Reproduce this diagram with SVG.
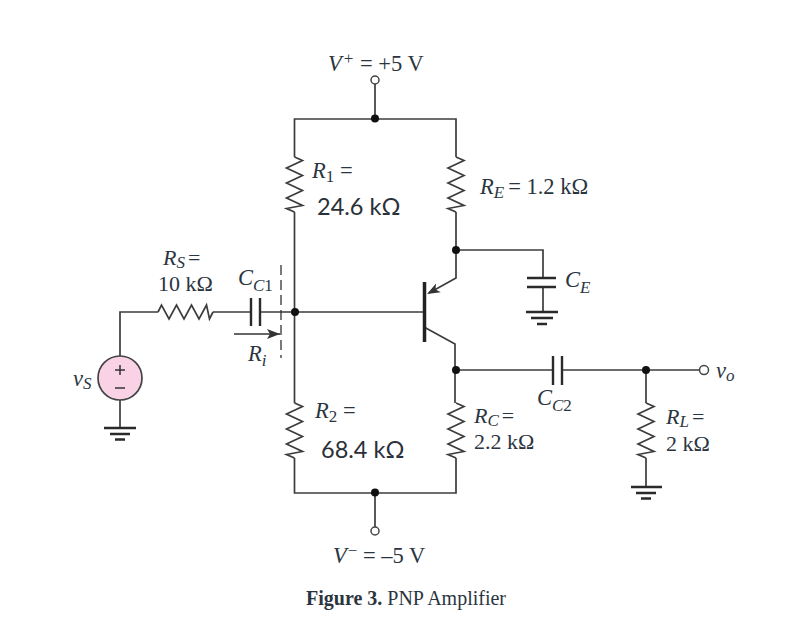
<svg xmlns="http://www.w3.org/2000/svg" width="812" height="623" viewBox="0 0 812 623">
<style>
.w{fill:none;stroke:#3c3c3c;stroke-width:1.7}
.p{fill:none;stroke:#2a2a2a;stroke-width:2.4}
.d{fill:#111}
.o{fill:#fff;stroke:#444;stroke-width:1.5}
text{font-family:"Liberation Serif",serif;font-size:22.5px;fill:#2b3540}
.t{font-size:22px}
.i{font-style:italic}
.s{font-size:17px;font-style:italic}
.n{font-size:17px}
.c{font-family:Lato,"Noto Sans",sans-serif;font-size:23.5px;fill:#2a3038}
</style>
<defs>
<path id="zz" d="M0 0L8 3.5L-8 11L8 18.5L-8 26L8 33.5L-8 41L8 48.5L-8 51.5L0 55" class="w"/>
<path id="zh" d="M0 0L3.5 -7L11 7L18.5 -7L26 7L33.5 -7L41 7L48.5 -7L51.5 7L55 0" class="w"/>
<marker id="ah" markerUnits="userSpaceOnUse" markerWidth="14" markerHeight="10" refX="13" refY="5" orient="auto"><path d="M0 0L13 5L0 10L3 5Z" fill="#333"/></marker>
</defs>
<rect width="812" height="623" fill="#fff"/>
<g id="connectors">
<path class="w" d="M375 84V119M294.500 157V119H456V157M294.500 212V403M294.500 458V493H456V458M375 493V527"/>
<path class="w" d="M456 212V278L429 293M424 327L455 344V403"/>
<path class="w" d="M456 250H543V278M543 287V312"/>
<path class="w" d="M456 370H553M562 370H699M646 370V403M646 458V487"/>
<path class="w" d="M120 356V312H158M213 312H251M260 312H424"/>
<path class="w" d="M120 400V428"/>
<path d="M281 265V358" fill="none" stroke="#333" stroke-width="1.300" stroke-dasharray="10 5"/>
<path d="M234 334H280" fill="none" stroke="#333" stroke-width="1.300" marker-end="url(#ah)"/>
</g>
<g id="vplus"><circle class="o" cx="375" cy="80" r="4"/><circle class="d" cx="375" cy="118.500" r="4"/><text x="328" y="71"><tspan class="i">V</tspan><tspan font-size="17" dy="-7" dx="2">+</tspan><tspan dy="7" dx="1"> = +5 V</tspan></text></g>
<g id="vminus"><circle class="o" cx="375" cy="531" r="4"/><circle class="d" cx="375" cy="492.500" r="4"/><text x="333" y="563"><tspan class="i">V</tspan><tspan font-size="17" dy="-7" dx="1">−</tspan><tspan dy="7"> = –5 V</tspan></text></g>
<g id="r1"><use href="#zz" x="294.500" y="157"/><text x="312" y="178"><tspan class="i">R</tspan><tspan class="n" dy="4">1</tspan><tspan dy="-4"> =</tspan></text><text class="c" x="317" y="215">24.6 kΩ</text></g>
<g id="r2"><use href="#zz" x="294.500" y="403"/><text x="315" y="418"><tspan class="i">R</tspan><tspan class="n" dy="4">2</tspan><tspan dy="-4"> =</tspan></text><text class="c" x="321" y="458">68.4 kΩ</text></g>
<g id="re"><use href="#zz" x="456" y="157"/><text x="480" y="194"><tspan class="i">R</tspan><tspan class="s" dy="4">E</tspan><tspan dy="-4" dx="4">= 1.2 kΩ</tspan></text></g>
<g id="rc"><use href="#zz" x="456" y="403"/><text class="t" x="474" y="423"><tspan class="i">R</tspan><tspan class="s" dy="2.500">C</tspan><tspan dy="-2.500" dx="3">=</tspan></text><text class="t" x="474" y="449">2.2 kΩ</text></g>
<g id="rl"><use href="#zz" x="646" y="403"/><text class="t" x="666" y="424"><tspan class="i">R</tspan><tspan class="s" dy="2.500">L</tspan><tspan dy="-2.500" dx="3">=</tspan></text><text class="t" x="666" y="451">2 kΩ</text></g>
<g id="rs"><use href="#zh" x="158" y="312"/><text class="t" x="163" y="265"><tspan class="i">R</tspan><tspan class="s" dy="2.500">S</tspan><tspan dy="-2.500" dx="3">=</tspan></text><text class="t" x="158" y="291">10 kΩ</text></g>
<g id="cc1"><path class="p" d="M251 298V326M260 298V326"/><text x="238" y="285"><tspan class="i">C</tspan><tspan class="s" dy="6">C</tspan><tspan class="n">1</tspan></text></g>
<g id="cc2"><path class="p" d="M553 356V385M562 356V385"/><text x="537" y="405"><tspan class="i">C</tspan><tspan class="s" dy="6">C</tspan><tspan class="n">2</tspan></text></g>
<g id="ce"><path class="p" d="M527 278H556M527 287H556"/><path class="p" d="M526 312H558M531 318H553M537 324H547"/><text x="565" y="287"><tspan class="i">C</tspan><tspan class="s" dy="6">E</tspan></text></g>
<g id="q1"><path d="M424.500 282V342" fill="none" stroke="#222" stroke-width="3.500"/><path d="M427 294L436 283.400L435.500 289.500L440.800 292.200Z" fill="#333"/></g>
<g id="base"><circle class="d" cx="295" cy="312" r="4"/></g>
<g id="ne"><circle class="d" cx="456" cy="250" r="4"/></g>
<g id="nc"><circle class="d" cx="456" cy="370" r="4"/></g>
<g id="nl"><circle class="d" cx="646" cy="370" r="4"/></g>
<g id="vo"><circle class="o" cx="704" cy="370" r="4.500"/><text x="716" y="378"><tspan class="i">v</tspan><tspan class="s" dy="3">o</tspan></text></g>
<g id="ri"><text x="248" y="361"><tspan class="i">R</tspan><tspan class="s" dy="5">i</tspan></text></g>
<g id="vs"><circle cx="120" cy="378" r="22" fill="#f9d2e6" stroke="#444" stroke-width="1.700"/><path d="M115 370H125M120 365V375M115 388H125" fill="none" stroke="#333" stroke-width="1.500"/><text x="73" y="386"><tspan class="i">v</tspan><tspan class="s" dy="3">S</tspan></text></g>
<g id="gnd1"><path class="p" d="M104 428H136M110 434H130M115 439.500H125"/></g>
<g id="gnd2"><path class="p" d="M631 487H662M636 493H656M641 498.500H651"/></g>
<g id="caption"><text x="306" y="605" style="font-size:20px"><tspan font-weight="bold">Figure 3.</tspan><tspan> PNP Amplifier</tspan></text></g>
</svg>
